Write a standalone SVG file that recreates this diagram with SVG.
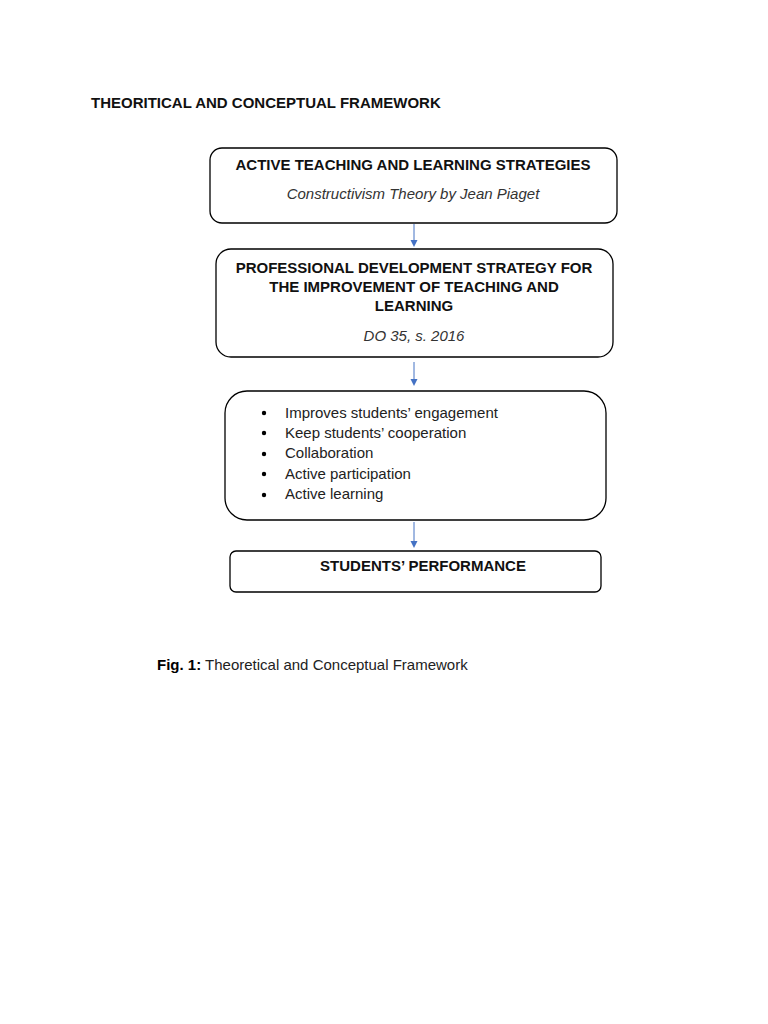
<svg xmlns="http://www.w3.org/2000/svg" width="768" height="1024" viewBox="0 0 768 1024">
<defs>
<style>
text{font-family:"Liberation Sans",Arial,sans-serif;fill:#000;}
.b{font-weight:bold;font-size:15px;fill:#111;}
.i{font-style:italic;font-size:15px;fill:#333;}
.n{font-size:15px;fill:#222;}
.box{fill:#fff;stroke:#000;stroke-width:1.3;}
.con{stroke:#4472c4;stroke-width:1;fill:none;}
.ah{fill:#4472c4;}
</style>
</defs>
<rect width="768" height="1024" fill="#fff"/>
<text id="title" x="91" y="108" class="b">THEORITICAL AND CONCEPTUAL FRAMEWORK</text>
<g id="connectors">
<line class="con" x1="414" y1="224" x2="414" y2="241"/><path class="ah" d="M410.5,240 L417.5,240 L414,247 Z"/>
<line class="con" x1="414" y1="362" x2="414" y2="380"/><path class="ah" d="M410.5,379 L417.5,379 L414,386 Z"/>
<line class="con" x1="414" y1="522" x2="414" y2="542"/><path class="ah" d="M410.5,541 L417.5,541 L414,548 Z"/>
</g>
<g id="node1">
<rect class="box" x="210" y="148" width="407" height="75" rx="12"/>
<text x="413" y="170" class="b" text-anchor="middle">ACTIVE TEACHING AND LEARNING STRATEGIES</text>
<text x="413" y="199" class="i" text-anchor="middle">Constructivism Theory by Jean Piaget</text>
</g>
<g id="node2">
<rect class="box" x="216" y="249" width="397" height="108" rx="15"/>
<text x="414" y="273" class="b" text-anchor="middle">PROFESSIONAL DEVELOPMENT STRATEGY FOR</text>
<text x="414" y="292" class="b" text-anchor="middle">THE IMPROVEMENT OF TEACHING AND</text>
<text x="414" y="311" class="b" text-anchor="middle">LEARNING</text>
<text x="414" y="341" class="i" text-anchor="middle">DO 35, s. 2016</text>
</g>
<g id="node3">
<rect class="box" x="225" y="391" width="381" height="129" rx="22"/>
<g fill="#000"><circle cx="264" cy="413" r="2.2"/><circle cx="264" cy="433" r="2.2"/><circle cx="264" cy="454" r="2.2"/><circle cx="264" cy="474" r="2.2"/><circle cx="264" cy="495" r="2.2"/></g>
<text x="285" y="418" class="n">Improves students’ engagement</text>
<text x="285" y="438" class="n">Keep students’ cooperation</text>
<text x="285" y="458" class="n">Collaboration</text>
<text x="285" y="479" class="n">Active participation</text>
<text x="285" y="499" class="n">Active learning</text>
</g>
<g id="node4">
<rect class="box" x="230" y="551" width="371" height="41" rx="6"/>
<text x="423" y="571" class="b" text-anchor="middle">STUDENTS’ PERFORMANCE</text>
</g>
<text id="caption" x="157" y="670" class="n"><tspan font-weight="bold" fill="#000">Fig. 1:</tspan> Theoretical and Conceptual Framework</text>
</svg>
